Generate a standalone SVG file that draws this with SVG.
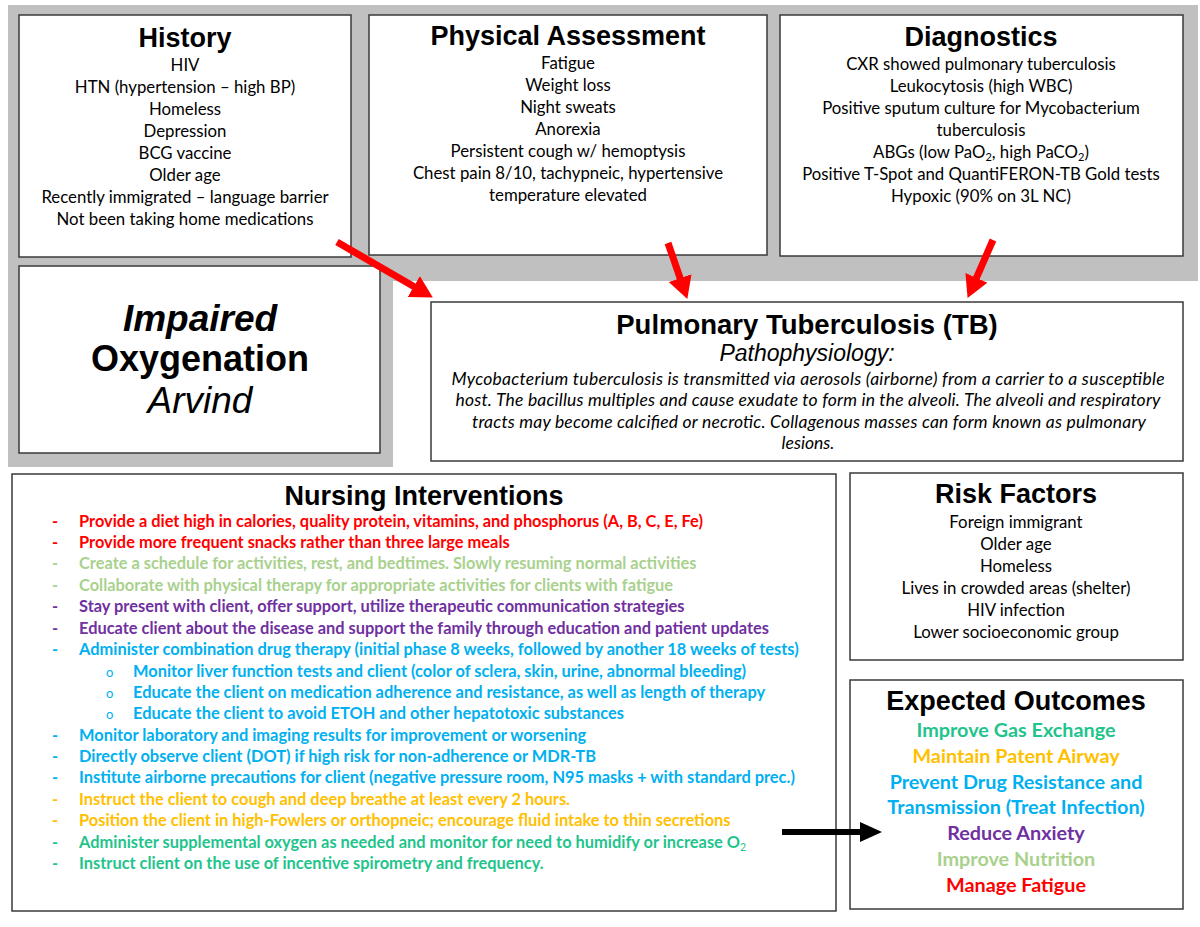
<svg xmlns="http://www.w3.org/2000/svg" width="1200" height="927" viewBox="0 0 1200 927">
<style>
.box{fill:#fff;stroke:#3a3a3a;stroke-width:1.5}
.title{font-family:"Liberation Sans",Arial,sans-serif;font-weight:bold;font-size:27px;fill:#000;text-anchor:middle}
.body{font-family:Lato,"Liberation Sans",sans-serif;font-size:16.8px;fill:#000;text-anchor:middle}
.ni{font-family:Lato,"Liberation Sans",sans-serif;font-weight:bold;font-size:16.4px}
.eo{font-family:Lato,"Liberation Sans",sans-serif;font-weight:bold;font-size:19.8px;text-anchor:middle}
.patho{font-family:Lato,"Liberation Sans",sans-serif;font-size:17.5px;font-style:italic;text-anchor:middle}
.red{fill:#FF0000}.lg{fill:#A9D18E}.pu{fill:#7030A0}.bl{fill:#00B0F0}.or{fill:#FFC000}.tg{fill:#1FC48C}
.ra{stroke:#FF0000;stroke-width:7;fill:none}
.ka{stroke:#000;stroke-width:6;fill:none}
</style>
<defs>
<marker id="hr" markerUnits="userSpaceOnUse" viewBox="0 0 22 24" refX="6" refY="12" markerWidth="22" markerHeight="24" orient="auto"><path d="M0,0 L22,12 L0,24 z" fill="#FF0000"/></marker>
<marker id="hk" markerUnits="userSpaceOnUse" viewBox="0 0 22 20" refX="7" refY="10" markerWidth="22" markerHeight="20" orient="auto"><path d="M0,0 L22,10 L0,20 z" fill="#000"/></marker>
</defs>
<rect width="1200" height="927" fill="#fff"/>
<polygon points="8,5 1198,5 1198,281 393,281 393,467 8,467" fill="#C0C0C0"/>

<g id="history">
<rect class="box" x="19" y="15" width="332" height="242"/>
<text class="title" x="185" y="47">History</text>
<text class="body" x="185" y="71">HIV</text>
<text class="body" x="185" y="93">HTN (hypertension – high BP)</text>
<text class="body" x="185" y="115">Homeless</text>
<text class="body" x="185" y="137">Depression</text>
<text class="body" x="185" y="159">BCG vaccine</text>
<text class="body" x="185" y="181">Older age</text>
<text class="body" x="185" y="203">Recently immigrated – language barrier</text>
<text class="body" x="185" y="225">Not been taking home medications</text>
</g>

<g id="physical">
<rect class="box" x="369" y="15" width="398" height="240"/>
<text class="title" x="568" y="45">Physical Assessment</text>
<text class="body" x="568" y="69">Fatigue</text>
<text class="body" x="568" y="91">Weight loss</text>
<text class="body" x="568" y="113">Night sweats</text>
<text class="body" x="568" y="135">Anorexia</text>
<text class="body" x="568" y="157">Persistent cough w/ hemoptysis</text>
<text class="body" x="568" y="179">Chest pain 8/10, tachypneic, hypertensive</text>
<text class="body" x="568" y="201">temperature elevated</text>
</g>

<g id="diagnostics">
<rect class="box" x="780" y="15" width="403" height="241"/>
<text class="title" x="981" y="46">Diagnostics</text>
<text class="body" x="981" y="70">CXR showed pulmonary tuberculosis</text>
<text class="body" x="981" y="92">Leukocytosis (high WBC)</text>
<text class="body" x="981" y="114">Positive sputum culture for Mycobacterium</text>
<text class="body" x="981" y="136">tuberculosis</text>
<text class="body" x="981" y="158">ABGs (low PaO<tspan font-size="11" dy="3">2</tspan><tspan dy="-3">, high PaCO</tspan><tspan font-size="11" dy="3">2</tspan><tspan dy="-3">)</tspan></text>
<text class="body" x="981" y="180">Positive T-Spot and QuantiFERON-TB Gold tests</text>
<text class="body" x="981" y="202">Hypoxic (90% on 3L NC)</text>
</g>

<g id="impaired">
<rect class="box" x="19" y="266" width="361" height="187"/>
<text x="200" y="331" text-anchor="middle" font-family="'Liberation Sans',Arial,sans-serif" font-size="37" font-weight="bold" font-style="italic">Impaired</text>
<text x="200" y="371" text-anchor="middle" font-family="'Liberation Sans',Arial,sans-serif" font-size="36" font-weight="bold">Oxygenation</text>
<text x="200" y="413" text-anchor="middle" font-family="'Liberation Sans',Arial,sans-serif" font-size="37" font-style="italic">Arvind</text>
</g>

<g id="tb">
<rect class="box" x="431" y="302" width="752" height="159"/>
<text x="807" y="334" text-anchor="middle" font-family="'Liberation Sans',Arial,sans-serif" font-size="27.5" font-weight="bold">Pulmonary Tuberculosis (TB)</text>
<text x="807" y="361" text-anchor="middle" font-family="'Liberation Sans',Arial,sans-serif" font-size="23" font-style="italic">Pathophysiology:</text>
<text class="patho" x="808" y="385" textLength="713" lengthAdjust="spacing">Mycobacterium tuberculosis is transmitted via aerosols (airborne) from a carrier to a susceptible</text>
<text class="patho" x="808" y="406" textLength="705" lengthAdjust="spacing">host. The bacillus multiples and cause exudate to form in the alveoli. The alveoli and respiratory</text>
<text class="patho" x="809" y="428" textLength="674" lengthAdjust="spacing">tracts may become calcified or necrotic. Collagenous masses can form known as pulmonary</text>
<text class="patho" x="808" y="449">lesions.</text>
</g>

<g id="nursing">
<rect class="box" x="12" y="474" width="824" height="437"/>
<text class="title" x="424" y="505">Nursing Interventions</text>
<g class="ni">
<text class="red" x="52" y="527">-</text><text class="red" x="79" y="527">Provide a diet high in calories, quality protein, vitamins, and phosphorus (A, B, C, E, Fe)</text>
<text class="red" x="52" y="548">-</text><text class="red" x="79" y="548">Provide more frequent snacks rather than three large meals</text>
<text class="lg" x="52" y="569">-</text><text class="lg" x="79" y="569">Create a schedule for activities, rest, and bedtimes. Slowly resuming normal activities</text>
<text class="lg" x="52" y="591">-</text><text class="lg" x="79" y="591">Collaborate with physical therapy for appropriate activities for clients with fatigue</text>
<text class="pu" x="52" y="612">-</text><text class="pu" x="79" y="612">Stay present with client, offer support, utilize therapeutic communication strategies</text>
<text class="pu" x="52" y="634">-</text><text class="pu" x="79" y="634">Educate client about the disease and support the family through education and patient updates</text>
<text class="bl" x="52" y="655">-</text><text class="bl" x="79" y="655">Administer combination drug therapy (initial phase 8 weeks, followed by another 18 weeks of tests)</text>
<text class="bl" x="106" y="677" font-weight="normal" font-size="13">o</text><text class="bl" x="133" y="677">Monitor liver function tests and client (color of sclera, skin, urine, abnormal bleeding)</text>
<text class="bl" x="106" y="698" font-weight="normal" font-size="13">o</text><text class="bl" x="133" y="698">Educate the client on medication adherence and resistance, as well as length of therapy</text>
<text class="bl" x="106" y="719" font-weight="normal" font-size="13">o</text><text class="bl" x="133" y="719">Educate the client to avoid ETOH and other hepatotoxic substances</text>
<text class="bl" x="52" y="741">-</text><text class="bl" x="79" y="741">Monitor laboratory and imaging results for improvement or worsening</text>
<text class="bl" x="52" y="762">-</text><text class="bl" x="79" y="762">Directly observe client (DOT) if high risk for non-adherence or MDR-TB</text>
<text class="bl" x="52" y="783">-</text><text class="bl" x="79" y="783">Institute airborne precautions for client (negative pressure room, N95 masks + with standard prec.)</text>
<text class="or" x="52" y="805">-</text><text class="or" x="79" y="805">Instruct the client to cough and deep breathe at least every 2 hours.</text>
<text class="or" x="52" y="826">-</text><text class="or" x="79" y="826">Position the client in high-Fowlers or orthopneic; encourage fluid intake to thin secretions</text>
<text class="tg" x="52" y="848">-</text><text class="tg" x="79" y="848">Administer supplemental oxygen as needed and monitor for need to humidify or increase O<tspan font-size="10.5" font-weight="normal" dy="3">2</tspan></text>
<text class="tg" x="52" y="869">-</text><text class="tg" x="79" y="869">Instruct client on the use of incentive spirometry and frequency.</text>
</g>
</g>

<g id="risk">
<rect class="box" x="850" y="473" width="333" height="187"/>
<text class="title" x="1016" y="503">Risk Factors</text>
<text class="body" x="1016" y="528">Foreign immigrant</text>
<text class="body" x="1016" y="550">Older age</text>
<text class="body" x="1016" y="572">Homeless</text>
<text class="body" x="1016" y="594">Lives in crowded areas (shelter)</text>
<text class="body" x="1016" y="616">HIV infection</text>
<text class="body" x="1016" y="638">Lower socioeconomic group</text>
</g>

<g id="outcomes">
<rect class="box" x="850" y="680" width="333" height="229"/>
<text class="title" x="1016" y="710">Expected Outcomes</text>
<text class="eo tg" x="1016" y="737">Improve Gas Exchange</text>
<text class="eo or" x="1016" y="763">Maintain Patent Airway</text>
<text class="eo bl" x="1016" y="789">Prevent Drug Resistance and</text>
<text class="eo bl" x="1016" y="814">Transmission (Treat Infection)</text>
<text class="eo pu" x="1016" y="840">Reduce Anxiety</text>
<text class="eo lg" x="1016" y="866">Improve Nutrition</text>
<text class="eo red" x="1016" y="892">Manage Fatigue</text>
</g>

<g id="connectors">
<line class="ra" x1="337" y1="242" x2="419" y2="289.5" marker-end="url(#hr)"/>
<line class="ra" x1="668" y1="243" x2="682.1" y2="283.8" marker-end="url(#hr)"/>
<line class="ra" x1="993" y1="240" x2="974" y2="283.3" marker-end="url(#hr)"/>
<line class="ka" x1="782" y1="832" x2="867" y2="832" marker-end="url(#hk)"/>
</g>
</svg>
